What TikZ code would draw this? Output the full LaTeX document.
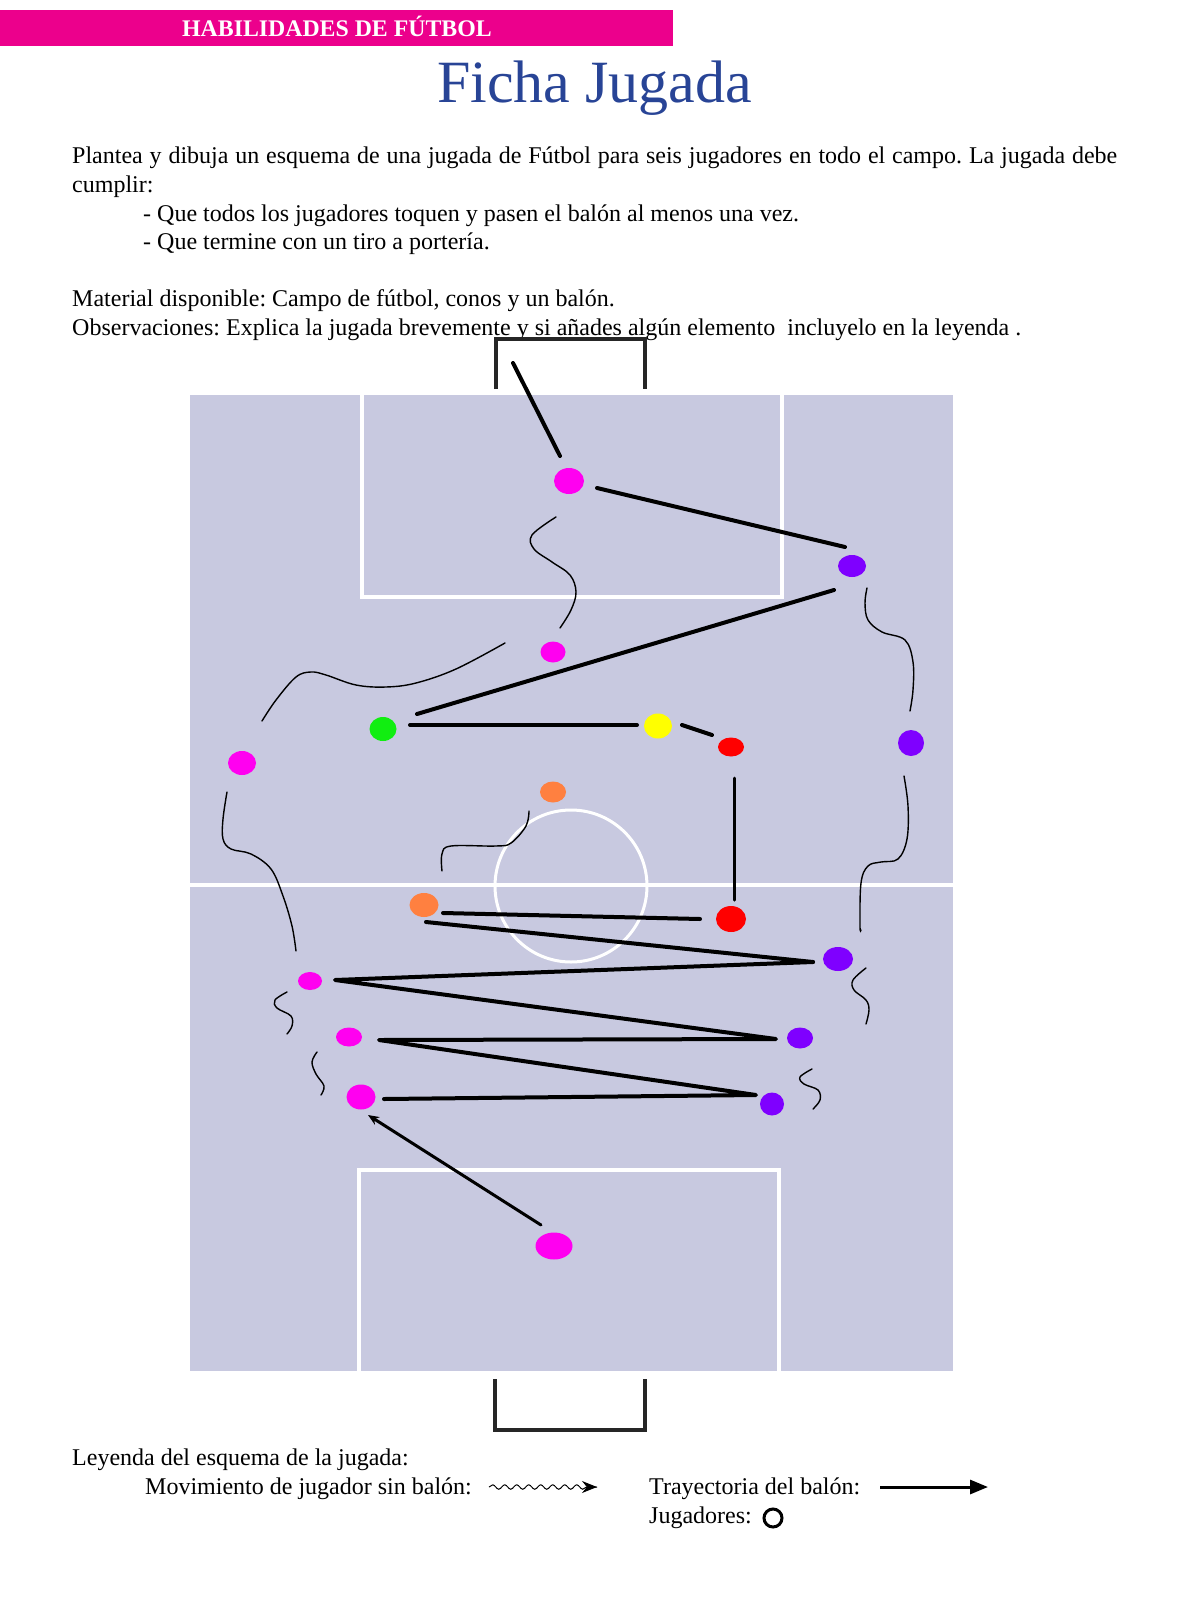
\documentclass[tikz,border=0pt]{standalone}
\usepackage{fontspec}
\setmainfont{Liberation Serif}
\usetikzlibrary{shapes.geometric,arrows.meta,decorations.pathmorphing,calc}
\definecolor{barpink}{RGB}{236,0,140}
\definecolor{titleblue}{RGB}{40,68,150}
\definecolor{fieldc}{RGB}{200,201,224}
\definecolor{pmag}{RGB}{255,0,240}
\definecolor{ppur}{RGB}{127,0,255}
\definecolor{pgreen}{RGB}{17,238,17}
\definecolor{pyel}{RGB}{255,255,0}
\definecolor{pred}{RGB}{255,0,0}
\definecolor{pora}{RGB}{255,128,64}
\frenchspacing
\tikzset{
  player/.style={ellipse, inner sep=0pt, outer sep=0pt, draw=none},
  pass/.style={line width=4pt, line cap=round, black},
  thinpass/.style={line width=3pt, line cap=round, black},
  move/.style={line width=1.4pt, black, line cap=round},
  fieldline/.style={line width=3.5pt, white},
  goalline/.style={line width=3.5pt, black!85},
  bodytxt/.style={anchor=base west, inner sep=0pt, font=\fontsize{24}{28}\selectfont},
}
\begin{document}
\begin{tikzpicture}[x=1pt,y=-1pt]
\useasboundingbox (0,0) rectangle (1189,1600);
% header
\fill[barpink] (0,10) rectangle (673,46);
\node[anchor=base west, inner sep=0pt, text=white, font=\fontsize{23.8}{28}\selectfont\bfseries] (hdr) at (182,37) {HABILIDADES DE FÚTBOL};
\node[anchor=base west, inner sep=0pt, text=titleblue, font=\fontsize{60}{66}\selectfont] (title) at (437,103) {Ficha Jugada};
% body text
\node[bodytxt] (t1) at (72,163) {\hbox to 1045pt{Plantea y dibuja un esquema de una jugada de Fútbol para seis jugadores en todo el campo. La jugada debe}};
\node[bodytxt] (t2) at (72,192) {cumplir:};
\node[bodytxt] (t3) at (143,221) {- Que todos los jugadores toquen y pasen el balón al menos una vez.};
\node[bodytxt] (t4) at (143,249) {- Que termine con un tiro a portería.};
\node[bodytxt] (t5) at (72,306) {Material disponible: Campo de fútbol, conos y un balón.};
\node[bodytxt] (t6) at (72,335) {Observaciones: Explica la jugada brevemente y si añades algún elemento\ \ incluyelo en la leyenda .};
% field
\fill[fieldc] (190,395) rectangle (953,1371);
\draw[fieldline] (362,393) -- (362,597) -- (782,597) -- (782,393);
\draw[fieldline] (359,1371) -- (359,1170) -- (779,1170) -- (779,1371);
\draw[fieldline] (190,885) -- (953,885);
\draw[fieldline, line width=3pt] (571,886) circle (76);
% goals
\draw[goalline] (496,389) -- (496,339) -- (645,339) -- (645,389);
\draw[goalline] (495,1379) -- (495,1430) -- (645,1430) -- (645,1379);
% players
\node[player, fill=pmag, minimum width=30pt, minimum height=26pt] (p1) at (569,481) {};
\node[player, fill=ppur, minimum width=28pt, minimum height=22pt] (p2) at (852,566) {};
\node[player, fill=pmag, minimum width=25pt, minimum height=21pt] (p3) at (553,652) {};
\node[player, fill=pgreen, minimum width=27pt, minimum height=24pt] (p4) at (383,729) {};
\node[player, fill=pyel, minimum width=28pt, minimum height=25pt] (p5) at (658,726) {};
\node[player, fill=pred, minimum width=26pt, minimum height=19pt] (p6) at (731,747) {};
\node[player, fill=ppur, minimum width=26pt, minimum height=26pt] (p7) at (911,743) {};
\node[player, fill=pmag, minimum width=28pt, minimum height=24pt] (p8) at (242,763) {};
\node[player, fill=pora, minimum width=26pt, minimum height=21pt] (p9) at (553,792) {};
\node[player, fill=pora, minimum width=29pt, minimum height=24pt] (p10) at (424,905) {};
\node[player, fill=pred, minimum width=30pt, minimum height=26pt] (p11) at (731,919) {};
\node[player, fill=ppur, minimum width=30pt, minimum height=24pt] (p12) at (838,959) {};
\node[player, fill=pmag, minimum width=24pt, minimum height=18pt] (p13) at (310,981) {};
\node[player, fill=pmag, minimum width=26pt, minimum height=19pt] (p14) at (349,1037) {};
\node[player, fill=ppur, minimum width=26pt, minimum height=21pt] (p15) at (800,1038) {};
\node[player, fill=pmag, minimum width=29pt, minimum height=25pt] (p16) at (361,1097) {};
\node[player, fill=ppur, minimum width=24pt, minimum height=23pt] (p17) at (772,1104) {};
\node[player, fill=pmag, minimum width=37pt, minimum height=27pt] (p18) at (554,1246) {};
% pass end points
\coordinate (a1) at (560,456); \coordinate (b1) at (513,363);
\coordinate (a2) at (597,488); \coordinate (b2) at (845,547);
\coordinate (a3) at (834,590); \coordinate (b3) at (417,714);
\coordinate (a4) at (410,725); \coordinate (b4) at (637,725);
\coordinate (a5) at (682,725); \coordinate (b5) at (712,735);
\coordinate (a6) at (734,778); \coordinate (b6) at (734,900);
\coordinate (a7) at (443,913); \coordinate (b7) at (700,919);
\coordinate (a8) at (426,922); \coordinate (b8) at (813,962);
\coordinate (b9) at (335,980);
\coordinate (b10) at (776,1039);
\coordinate (b11) at (379,1040);
\coordinate (b12) at (756,1095);
\coordinate (b13) at (384,1099);
\coordinate (a14) at (541,1225); \coordinate (b14) at (368,1115);
% ball trajectory
\draw[pass] (a1) -- (b1);
\draw[pass] (a2) -- (b2);
\draw[pass] (a3) -- (b3);
\draw[pass] (a4) -- (b4);
\draw[pass] (a5) -- (b5);
\draw[thinpass] (a6) -- (b6);
\draw[pass] (a7) -- (b7);
\draw[pass] (a8) -- (b8);
\draw[pass, line join=round] (b8) -- (b9) -- (b10) -- (b11) -- (b12) -- (b13);
\draw[thinpass, -{Stealth[length=11pt,width=9pt]}] (a14) -- (b14);
% movements without ball
\draw[move] plot[smooth, tension=0.6] coordinates {(556,517) (532,535) (534,549) (552,562) (570,575) (576,592) (571,610) (560,628)};
\draw[move] plot[smooth, tension=0.6] coordinates {(262,721) (276,700) (296,677) (311,672) (326,675) (356,685) (386,687) (416,683) (456,669) (505,643)};
\draw[move] plot[smooth, tension=0.6] coordinates {(867,588) (865,603) (868,620) (882,632) (905,640) (913,662) (913,690) (910,711)};
\draw[move] plot[smooth, tension=0.6] coordinates {(904,776) (908,806) (907,839) (898,859) (881,862) (868,866) (861,883) (860,926) (861,930)};
\draw[move] plot[smooth, tension=0.6] coordinates {(227,792) (223,819) (223,839) (231,849) (251,854) (271,869) (283,896) (292,926) (296,951)};
\draw[move] plot[smooth, tension=0.6] coordinates {(529,811) (526,826) (511,843) (496,846) (451,846) (442,854) (442,871)};
\draw[move] plot[smooth, tension=0.6] coordinates {(866,968) (853,980) (854,990) (866,1000) (869,1010) (866,1024)};
\draw[move] plot[smooth, tension=0.6] coordinates {(287,992) (275,1000) (277,1008) (291,1016) (292,1026) (287,1034)};
\draw[move] plot[smooth, tension=0.6] coordinates {(317,1052) (312,1062) (316,1074) (324,1086) (321,1095)};
\draw[move] plot[smooth, tension=0.6] coordinates {(812,1069) (800,1077) (804,1084) (818,1090) (820,1100) (813,1109)};
% legend
\node[bodytxt] (l1) at (72,1465) {Leyenda del esquema de la jugada:};
\node[bodytxt] (l2) at (145,1494) {Movimiento de jugador sin balón:};
\node[bodytxt] (l3) at (649,1494) {Trayectoria del balón:};
\node[bodytxt] (l4) at (649,1523) {Jugadores:};
\coordinate (w1) at (489,1487); \coordinate (w2) at (597,1487);
\draw[line width=1pt, decorate, decoration={snake, amplitude=2.2pt, segment length=12pt, post length=10pt}] (w1) -- (w2);
\draw[line width=1pt, -{Stealth[length=15pt,width=12pt]}] ($(w2)+(-12,0)$) -- (w2);
\coordinate (r1) at (880,1487); \coordinate (r2) at (988,1487);
\draw[line width=3pt, -{Stealth[length=18pt,width=14pt,inset=0pt]}] (r1) -- (r2);
\node[circle, draw=black, line width=3pt, minimum size=18pt, inner sep=0pt] (lc) at (773,1518) {};
\end{tikzpicture}
\end{document}
